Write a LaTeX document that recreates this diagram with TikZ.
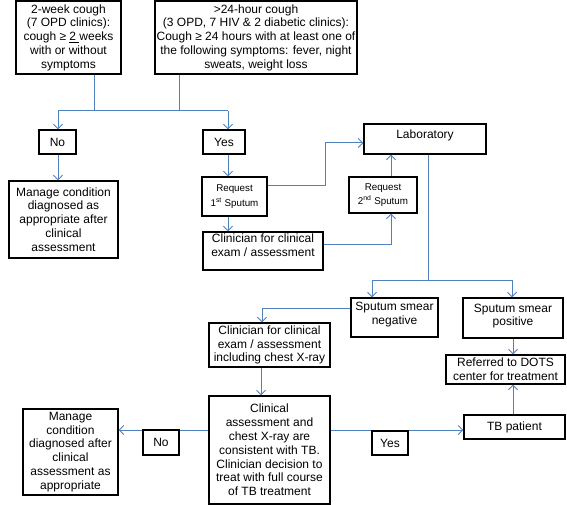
\documentclass[tikz,border=0pt]{standalone}
\usepackage{fontspec}
\setmainfont{Liberation Sans}
\usetikzlibrary{arrows.meta}
\definecolor{lineblue}{RGB}{79,129,189}
\begin{document}
\begin{tikzpicture}[x=1pt,y=-1pt,
  box/.style={draw=black,line width=1.1pt,fill=white,inner sep=0pt,align=center,
    font=\fontsize{12}{13.8}\selectfont},
  smallbox/.style={box,font=\fontsize{9.8}{14.5}\selectfont},
  conn/.style={draw=lineblue,line width=1pt},
  arr/.style={conn,-{Straight Barb[length=4.5pt,width=9pt]}}]
\useasboundingbox (0,0) rectangle (567,505);
% boxes
\node[box,minimum width=105pt,minimum height=73pt] (b1) at (68.5,37.5)
  {2-week cough\\(7 OPD clinics):\\cough ≥ \underline{2 }weeks\\with or without\\symptoms};
\node[box,minimum width=202pt,minimum height=73pt] (b2) at (256,37.5)
  {>24-hour cough\\(3 OPD, 7 HIV \& 2 diabetic clinics):\\Cough ≥ 24 hours with at least one of\\the following symptoms: fever, night\\sweats, weight loss};
\node[box,minimum width=37pt,minimum height=24pt] (no1) at (57.5,142) {No};
\node[box,minimum width=42pt,minimum height=24pt] (yes1) at (224,142) {Yes};
\node[box,minimum width=109pt,minimum height=77pt] (manage1) at (63.5,219.5)
  {Manage condition\\diagnosed as\\appropriate after\\clinical\\assessment};
\node[smallbox,minimum width=65pt,minimum height=39pt] (req1) at (234.5,196.5)
  {Request\\1\textsuperscript{st} Sputum};
\node[box,minimum width=120pt,minimum height=38pt,text depth=12pt] (clin1) at (263,251)
  {Clinician for clinical\\exam / assessment};
\node[box,minimum width=122pt,minimum height=30pt,text depth=10pt] (lab) at (425,139) {Laboratory};
\node[smallbox,minimum width=68pt,minimum height=36pt] (req2) at (383,195)
  {Request\\2\textsuperscript{nd} Sputum};
\node[box,minimum width=87pt,minimum height=39pt,text depth=9pt] (neg) at (394.5,317.5)
  {Sputum smear\\negative};
\node[box,minimum width=100pt,minimum height=40pt,text depth=6.5pt] (pos) at (513,318)
  {Sputum smear\\positive};
\node[box,minimum width=121pt,minimum height=44pt] (clin2) at (269.5,345)
  {Clinician for clinical\\exam / assessment\\including chest X-ray};
\node[box,minimum width=121pt,minimum height=108pt] (clin3) at (269.5,450)
  {Clinical\\assessment and\\chest X-ray are\\consistent with TB.\\Clinician decision to\\treat with full course\\of TB treatment};
\node[box,minimum width=95pt,minimum height=86pt] (manage2) at (70.5,452)
  {Manage\\condition\\diagnosed after\\clinical\\assessment as\\appropriate};
\node[box,minimum width=101pt,minimum height=24pt] (tb) at (514.5,427) {TB patient};
\node[box,minimum width=119pt,minimum height=29pt] (ref) at (505.5,369.5)
  {Referred to DOTS\\center for treatment};
% coordinates
\coordinate (j1) at (94,111);
\coordinate (j2) at (179,111);
\coordinate (s1) at (58,111);
\coordinate (s2) at (228,111);
\coordinate (c1) at (325,186);
\coordinate (c2) at (325,143);
\coordinate (c3) at (391,244);
\coordinate (c4) at (428,280);
\coordinate (c5) at (372,280);
\coordinate (c6) at (512,280);
\coordinate (c7) at (262,308);
\coordinate (c8) at (261,380);
\coordinate (c9) at (0,430);
\coordinate (c10) at (513,400);
% connectors
\draw[conn] (b1.south -| j1) -- (j1);
\draw[conn] (b2.south -| j2) -- (j2);
\draw[conn] (s1) -- (s2);
\draw[arr] (s1) -- (s1 |- no1.north);
\draw[arr] (s2) -- (s2 |- yes1.north);
\draw[arr] (s1 |- no1.south) -- (s1 |- manage1.north);
\draw[arr] (s2 |- yes1.south) -- (s2 |- req1.north);
\draw[arr] (s2 |- req1.south) -- (s2 |- clin1.north);
\draw[arr] (req1.east |- c1) -- (c1) -- (c2) -- (c2 -| lab.west);
\draw[arr] (c3 |- req2.north) -- (c3 |- lab.south);
\draw[arr] (clin1.east |- c3) -- (c3) -- (c3 |- req2.south);
\draw[conn] (c4 |- lab.south) -- (c4);
\draw[conn] (c5) -- (c6);
\draw[arr] (c5) -- (c5 |- neg.north);
\draw[arr] (c6) -- (c6 |- pos.north);
\draw[arr] (neg.west |- c7) -- (c7) -- (c7 |- clin2.north);
\draw[arr] (c8 |- clin2.south) -- (c8 |- clin3.north);
\draw[arr] (clin3.west |- c9) -- (manage2.east |- c9);
\draw[arr] (clin3.east |- c9) -- (tb.west |- c9);
\draw[arr] (c10 |- tb.north) -- (c10 |- ref.south);
\draw[arr] (c10 |- pos.south) -- (c10 |- ref.north);
% labels on the bottom line
\node[box,minimum width=36pt,minimum height=25pt] (no2) at (161,442.5) {No};
\node[box,minimum width=36pt,minimum height=24pt] (yes2) at (390,443) {Yes};
\end{tikzpicture}
\end{document}
